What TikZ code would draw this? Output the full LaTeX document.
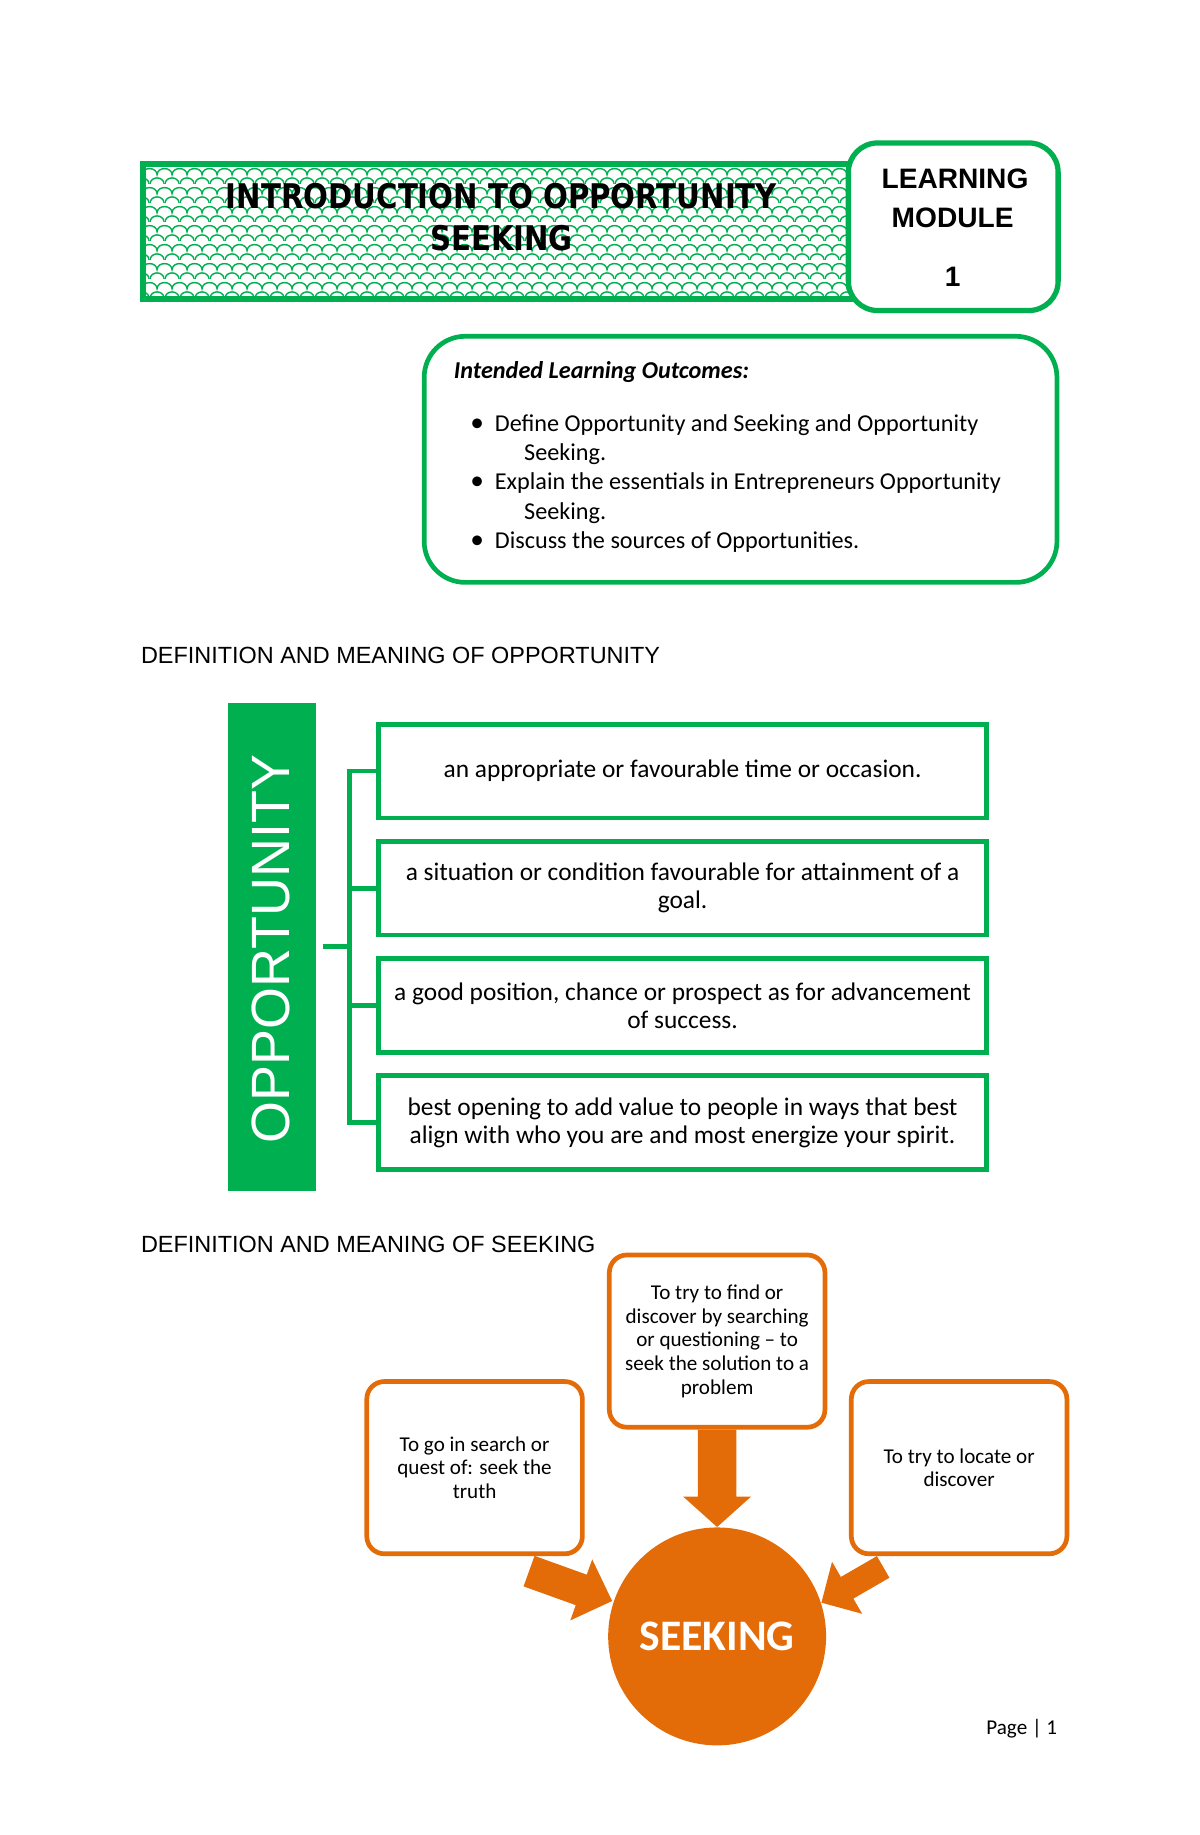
\documentclass[tikz,border=0pt]{standalone}
\usepackage{fontspec}
\setmainfont{Carlito}
\newfontfamily\arialf{Liberation Sans}
\newfontfamily\verdf{DejaVu Sans}
\usetikzlibrary{patterns,calc}
\definecolor{mygreen}{HTML}{00B050}
\definecolor{myorange}{HTML}{E36C09}
\pgfdeclarepatternformonly{scales}{\pgfpoint{0pt}{0pt}}{\pgfpoint{7.7pt}{9.6pt}}{\pgfpoint{7.7pt}{9.6pt}}{%
  \pgfsetlinewidth{0.75pt}%
  \pgfpathmoveto{\pgfpoint{0pt}{0pt}}%
  \pgfpathcurveto{\pgfpoint{0.4pt}{4.2pt}}{\pgfpoint{7.3pt}{4.2pt}}{\pgfpoint{7.7pt}{0pt}}%
  \pgfpathmoveto{\pgfpoint{-3.85pt}{4.8pt}}%
  \pgfpathcurveto{\pgfpoint{-3.45pt}{9.0pt}}{\pgfpoint{3.45pt}{9.0pt}}{\pgfpoint{3.85pt}{4.8pt}}%
  \pgfpathcurveto{\pgfpoint{4.25pt}{9.0pt}}{\pgfpoint{11.15pt}{9.0pt}}{\pgfpoint{11.55pt}{4.8pt}}%
  \pgfusepath{stroke}%
}
\newcommand\blockarr[6]{%
  \coordinate (#6j) at ($(#2)!#5!(#1)$);
  \fill[myorange] ($(#1)!#3!90:(#2)$) -- ($(#6j)!#3!90:(#2)$) -- ($(#6j)!#4!90:(#2)$) -- (#2)
    -- ($(#6j)!#4!-90:(#2)$) -- ($(#6j)!#3!-90:(#2)$) -- ($(#1)!#3!-90:(#2)$) -- cycle;
}
\tikzset{
  defbox/.style={draw=mygreen, line width=2.4pt, fill=white, minimum width=311.4pt, minimum height=48pt,
    align=center, inner sep=0pt, font=\fontsize{13}{14.4}\selectfont},
  conn/.style={draw=mygreen, line width=2.4pt},
  seekbox/.style={draw=myorange, line width=2.4pt, fill=white, rounded corners=9pt,
    minimum width=110.4pt, minimum height=88.2pt, align=center, inner sep=0pt,
    font=\fontsize{10.8}{12.1}\selectfont},
  heading/.style={anchor=west, inner sep=0pt, font=\arialf\fontsize{12}{14}\selectfont},
  outl/.style={anchor=base west, inner sep=0pt, font=\fontsize{12.4}{15}\selectfont},
  modtxt/.style={inner sep=0pt, font=\arialf\bfseries\fontsize{14.4}{16}\selectfont},
}
\begin{document}
\begin{tikzpicture}[x=0.6pt,y=-0.6pt]
\useasboundingbox[fill=white] (0,0) rectangle (1024,1566);
% ---------- title ----------
\node[draw=mygreen, line width=3pt, pattern=scales, pattern color=mygreen,
      minimum width=367.8pt, minimum height=69pt, inner sep=0pt] (title) at (428.5,197.5) {};
\node[inner sep=0pt, align=center, font=\verdf\bfseries\fontsize{17.4}{21.6}\selectfont] (titletext) at (428,185)
  {\scalebox{0.86}[1]{INTRODUCTION TO OPPORTUNITY}\\\scalebox{0.86}[1]{SEEKING}};
\node[draw=mygreen, line width=2.7pt, fill=white, rounded corners=15pt,
      minimum width=107.4pt, minimum height=85.8pt, inner sep=0pt] (module) at (813.5,193.5) {};
\node[modtxt] (m1) at (815,153) {LEARNING};
\node[modtxt] (m2) at (813,186) {MODULE};
\node[modtxt] (m3) at (813,236) {1};
% ---------- outcomes ----------
\node[draw=mygreen, line width=2.4pt, rounded corners=21pt, minimum width=324pt, minimum height=126pt,
      inner sep=0pt] (outcomes) at (632,392) {};
\node[outl, font=\bfseries\itshape\fontsize{12.4}{15}\selectfont] (ilo) at (387,323) {Intended Learning Outcomes:};
\node[outl, font=\fontsize{14}{15}\selectfont] (b1) at (401,368) {\textbullet};
\node[outl] (o1) at (422,368) {Define Opportunity and Seeking and Opportunity};
\node[outl] (o1b) at (447,393) {Seeking.};
\node[outl, font=\fontsize{14}{15}\selectfont] (b2) at (401,418) {\textbullet};
\node[outl] (o2) at (422,418) {Explain the essentials in Entrepreneurs Opportunity};
\node[outl] (o2b) at (447,443) {Seeking.};
\node[outl, font=\fontsize{14}{15}\selectfont] (b3) at (401,468) {\textbullet};
\node[outl] (o3) at (422,468) {Discuss the sources of Opportunities.};
% ---------- opportunity ----------
\node[heading] (h1) at (120,559) {DEFINITION AND MEANING OF OPPORTUNITY};
\node[fill=mygreen, minimum width=45pt, minimum height=249.6pt, inner sep=0pt] (oppbar) at (232.5,808) {};
\node[rotate=90, text=white, inner sep=0pt, font=\arialf\fontsize{27.6}{30}\selectfont] (opptext) at (231,810) {OPPORTUNITY};
\node[defbox] (d1) at (582.5,658) {an appropriate or favourable time or occasion.};
\node[defbox] (d2) at (582.5,758) {a situation or condition favourable for attainment of a\\goal.};
\node[defbox] (d3) at (582.5,858) {a good position, chance or prospect as for advancement\\of success.};
\node[defbox] (d4) at (582.5,958) {best opening to add value to people in ways that best\\align with who you are and most energize your spirit.};
\coordinate (spine) at (298,808);
\draw[conn] ([xshift=3pt]oppbar.east |- spine) -- (spine);
\draw[conn] (d1.west) -| (spine |- d4.west) -- (d4.west);
\draw[conn] (spine |- d2.west) -- (d2.west);
\draw[conn] (spine |- d3.west) -- (d3.west);
% ---------- seeking ----------
\node[heading] (h2) at (120,1062) {DEFINITION AND MEANING OF SEEKING};
\node[circle, fill=myorange, minimum size=111.6pt, inner sep=0pt, text=white,
      font=\bfseries\fontsize{22.3}{24}\selectfont] (seek) at (612,1396.5) {SEEKING};
\coordinate (la) at (451.5,1340.8);
\coordinate (lt) at (522.4,1366.3);
\coordinate (ra) at (753.7,1337.2);
\coordinate (rt) at (701,1367.7);
\node[seekbox] (s1) at (612,1144.5) {To try to find or\\discover by searching\\or questioning -- to\\seek the solution to a\\problem};
\node[seekbox] (s2) at (405,1252.5) {To go in search or\\quest of: seek the\\truth};
\node[seekbox] (s3) at (818.5,1252.5) {To try to locate or\\discover};
\blockarr{s1.south}{seek.north}{9.9pt}{17.4pt}{15.6pt}{ta}
\blockarr{la}{lt}{8.3pt}{16.6pt}{16.8pt}{lb}
\blockarr{ra}{rt}{6.4pt}{15.4pt}{15.2pt}{rb}
\node[inner sep=0pt, font=\fontsize{10.8}{12}\selectfont] (page) at (872,1475) {Page | 1};
\end{tikzpicture}
\end{document}
